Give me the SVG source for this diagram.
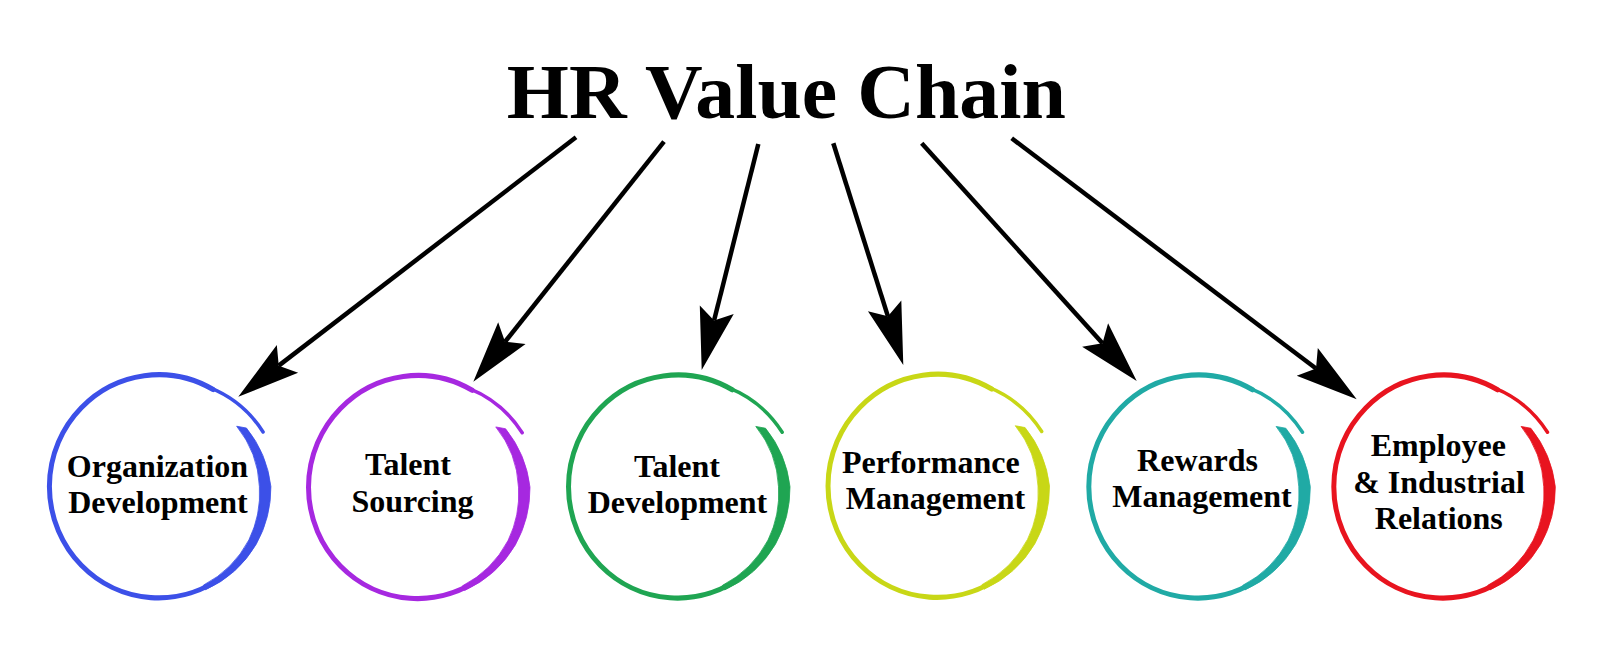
<svg xmlns="http://www.w3.org/2000/svg" xmlns:xlink="http://www.w3.org/1999/xlink" width="1600" height="655" viewBox="0 0 1600 655">
  <style>
    .title { font-family: "Liberation Serif", "Times New Roman", serif; font-weight: bold; font-size: 79px; fill: #000; }
    .label { font-family: "Liberation Serif", "Times New Roman", serif; font-weight: bold; font-size: 32px; fill: #000; text-anchor: middle; }
    .conn { stroke: #000; stroke-width: 4.5; fill: none; stroke-linecap: butt; marker-end: url(#head); }
    .ring .stroke { fill: none; stroke: currentColor; stroke-linecap: round; }
    .ring .band { fill: currentColor; stroke: currentColor; stroke-width: 0.8; stroke-linejoin: round; }
  </style>
  <defs>
    <marker id="head" markerUnits="userSpaceOnUse" markerWidth="1" markerHeight="1" refX="0" refY="0" orient="auto" overflow="visible">
      <path d="M0,0 L-11,-17.5 L51,0 L-11,17.5 Z" fill="#000"/>
    </marker>
    <g id="ring" class="ring">
      <path class="band" d="M88.06,-57.18 A110,110 0 0 1 112.5,0 A112.5,112.5 0 0 1 97.85,56.5 A112,112 0 0 1 47.12,101.05 L45.01,96.52 A106,106 0 0 0 90.5,52.25 A102,102 0 0 0 101,0 A99.5,99.5 0 0 0 78.27,-58.98 Z"/>
      <path class="stroke" d="M65.6,87.05 A109,109 0 0 1 -77.07,77.07 A109,109 0 0 1 -77.07,-77.07 A109,109 0 0 1 54.75,-94.83" stroke-width="5"/>
      <path class="stroke" d="M51.41,-96.68 A113,113 0 0 1 104.69,-53.34" stroke-width="3.5"/>
    </g>
  </defs>
  <rect width="1600" height="655" fill="#fff"/>

  <g id="title">
    <text class="title" x="786.3" y="118.3" text-anchor="middle" textLength="559" lengthAdjust="spacingAndGlyphs">HR Value Chain</text>
  </g>

  <g id="connectors">
    <line class="conn" x1="576" y1="137.3" x2="278.75" y2="365.63"/>
    <line class="conn" x1="664" y1="141.7" x2="505.03" y2="341.77"/>
    <line class="conn" x1="758.3" y1="144" x2="714.09" y2="320.53"/>
    <line class="conn" x1="833.3" y1="143.3" x2="887.94" y2="316.37"/>
    <line class="conn" x1="921.7" y1="143.3" x2="1102.49" y2="343.18"/>
    <line class="conn" x1="1011.7" y1="138.3" x2="1316.03" y2="368.53"/>
  </g>

  <g id="node-organization-development">
    <use href="#ring" color="#3c50e8" transform="translate(158.4,486.5) scale(1,1.022)"/>
    <text class="label" x="157.5" y="476.7">Organization</text>
    <text class="label" x="158" y="513.3">Development</text>
  </g>

  <g id="node-talent-sourcing">
    <use href="#ring" color="#a628e0" transform="translate(417.5,487.2) scale(1,1.022)"/>
    <text class="label" x="408" y="475">Talent</text>
    <text class="label" x="412.5" y="511.7">Sourcing</text>
  </g>

  <g id="node-talent-development">
    <use href="#ring" color="#1fa552" transform="translate(677.5,486.7) scale(1,1.022)"/>
    <text class="label" x="677" y="476.7">Talent</text>
    <text class="label" x="677.5" y="513.3">Development</text>
  </g>

  <g id="node-performance-management">
    <use href="#ring" color="#c8d716" transform="translate(937,486) scale(1,1.022)"/>
    <text class="label" x="930.8" y="473.3">Performance</text>
    <text class="label" x="935.5" y="509.3">Management</text>
  </g>

  <g id="node-rewards-management">
    <use href="#ring" color="#20aaa5" transform="translate(1197.8,486.7) scale(1,1.022)"/>
    <text class="label" x="1197.5" y="470.7">Rewards</text>
    <text class="label" x="1202" y="506.7">Management</text>
  </g>

  <g id="node-employee-industrial-relations">
    <use href="#ring" color="#e8141f" transform="translate(1442.8,486.7) scale(1,1.022)"/>
    <text class="label" x="1438.3" y="456">Employee</text>
    <text class="label" x="1439" y="493.3">&amp; Industrial</text>
    <text class="label" x="1438.8" y="529.3">Relations</text>
  </g>
</svg>
